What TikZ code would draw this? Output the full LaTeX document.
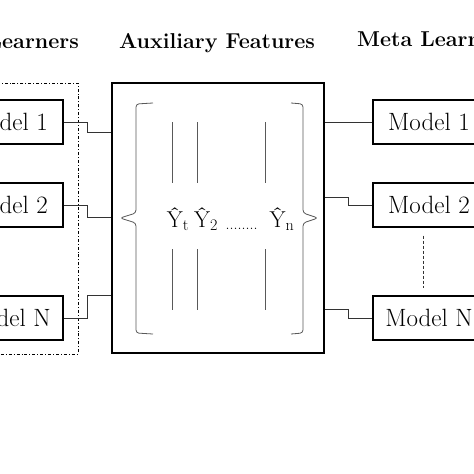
\documentclass[tikz,border=0pt]{standalone}
\usetikzlibrary{calc}

\begin{document}
\begin{tikzpicture}[x=1pt,y=-1pt]
   \tikzstyle{model}=[draw, line width=1.1pt, minimum width=112pt, minimum height=44pt, inner sep=0pt, font=\fontsize{25}{28}\selectfont]
   \tikzstyle{title}=[inner sep=0pt, font=\fontsize{21.5}{24}\selectfont\bfseries]
   \tikzstyle{link}=[draw=black!80, line width=0.8pt]
   \tikzstyle{column}=[draw=black!65, line width=0.8pt]
   \tikzstyle{pred}=[inner sep=0pt, anchor=base, font=\fontsize{23}{26}\selectfont]

\useasboundingbox (0,0) rectangle (474,474);
\clip (0,0) rectangle (474,474);

% titles
\node[title, anchor=base east] (tbase) at (79,48) {Base Learners};
\node[title, anchor=base] (taux) at (217,48) {Auxiliary Features};
\node[title, anchor=base west] (tmeta) at (357,46) {Meta Learners};

% base learners
\draw[line width=0.9pt, dash dot] (-60,83) rectangle (78,354);
\node[model] (base1) at (7,122) {Model 1};
\node[model] (base2) at (7,205) {Model 2};
\node[model] (baseN) at (7,318) {Model N};

% auxiliary features
\node[draw, line width=1.3pt, minimum width=212pt, minimum height=270pt] (aux) at (218,218) {};
\draw[column, rounded corners=3pt] (153,103) -- (136,104) -- (136,213) -- (120,218) -- (136,223) -- (136,333) -- (153,334);
\draw[column, rounded corners=3pt] (291,103) -- (303,104) -- (303,213) -- (318,218) -- (303,223) -- (303,333) -- (291,334);
\foreach \x in {172,197,265}{
   \draw[column] (\x,122) -- (\x,183);
   \draw[column] (\x,249) -- (\x,310);
}
\node[pred] (y1) at (178,227) {Ŷ\textsubscript{t}};
\node[pred] (y2) at (206,227) {Ŷ\textsubscript{2}};
\node[pred] (dots) at (241.5,229) {\fontsize{16}{16}\selectfont........};
\node[pred] (yn) at (282,227) {Ŷ\textsubscript{n}};

% meta learners
\node[model] (meta1) at (429,122) {Model 1};
\node[model] (meta2) at (429,205) {Model 2};
\node[model] (metaN) at (429,318) {Model N};
\draw[black!80, densely dashed, line width=0.7pt] (meta2.south) ++(-6,8) coordinate (d1) -- ($(metaN.north)+(-6,-7)$);

% connectors
\draw[link] (base1.east) -- ++(24,0) |- (aux.west |- 0,132);
\draw[link] (base2.east) -- ++(24,0) |- (aux.west |- 0,217);
\draw[link] (baseN.east) -- ++(24,0) |- (aux.west |- 0,295);
\draw[link] (aux.east |- meta1) -- (meta1.west);
\draw[link] (aux.east |- 0,197) -- ++(24,0) |- (meta2.west);
\draw[link] (aux.east |- 0,309) -- ++(24,0) |- (metaN.west);

\end{tikzpicture}
\end{document}
